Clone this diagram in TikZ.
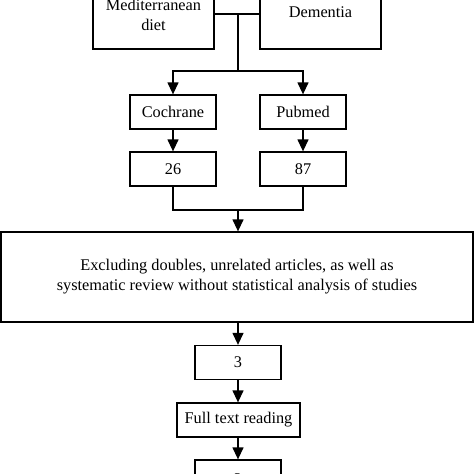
\documentclass[tikz,border=0pt]{standalone}
\usepackage{fontspec}
\setmainfont{Liberation Serif}
\usetikzlibrary{arrows.meta}

\tikzset{
    stage/.style={draw, line width=1.3pt, inner sep=0pt, align=center,
        minimum width=86pt, minimum height=34pt},
    wide/.style={stage, minimum width=121pt, minimum height=74pt},
    link/.style={line width=1.3pt},
    feed/.style={link, -{Triangle[width=11pt,length=12pt]}}
}

\begin{document}
\begin{tikzpicture}[x=1pt, y=-1pt, font=\fontsize{16.3}{20}\selectfont]
    \useasboundingbox (0,0) rectangle (474,474);

    \node[wide, minimum height=68pt] (med) at (153.5,15) {Mediterranean\\diet};
    \node[wide] (dem) at (320.5,12) {Dementia};

    \node[stage] (coch) at (173,112) {Cochrane};
    \node[stage] (pub)  at (303,112) {Pubmed};
    \node[stage] (hitsA) at (173,169) {26};
    \node[stage] (hitsB) at (303,169) {87};

    \node[stage, minimum width=472pt, minimum height=90pt] (excl) at (237,277)
        {Excluding doubles, unrelated articles, as well as\\
         systematic review without statistical analysis of studies};

    \node[stage] (kept) at (238,362.5) {3};
    \node[stage, minimum width=123pt] (full) at (238.5,420) {Full text reading};
    \node[stage, minimum height=38pt] (final) at (238,479) {3};

    \coordinate (join)  at (238,14);
    \coordinate (split) at (238,71);
    \coordinate (merge) at (238,210);

    \draw[link] (med.east |- join) -- (dem.west |- join);
    \draw[link] (join) -- (split);
    \draw[feed] (split) -| (coch);
    \draw[feed] (split) -| (pub);

    \draw[feed] (coch) -- (hitsA);
    \draw[feed] (pub) -- (hitsB);

    \draw[link] (hitsA) |- (merge);
    \draw[link] (hitsB) |- (merge);
    \draw[feed] (merge) -- (excl.north -| merge);

    \draw[feed] (excl.south -| kept) -- (kept);
    \draw[feed] (kept) -- (full.north -| kept);
    \draw[feed] (full.south -| final) -- (final);
\end{tikzpicture}
\end{document}
